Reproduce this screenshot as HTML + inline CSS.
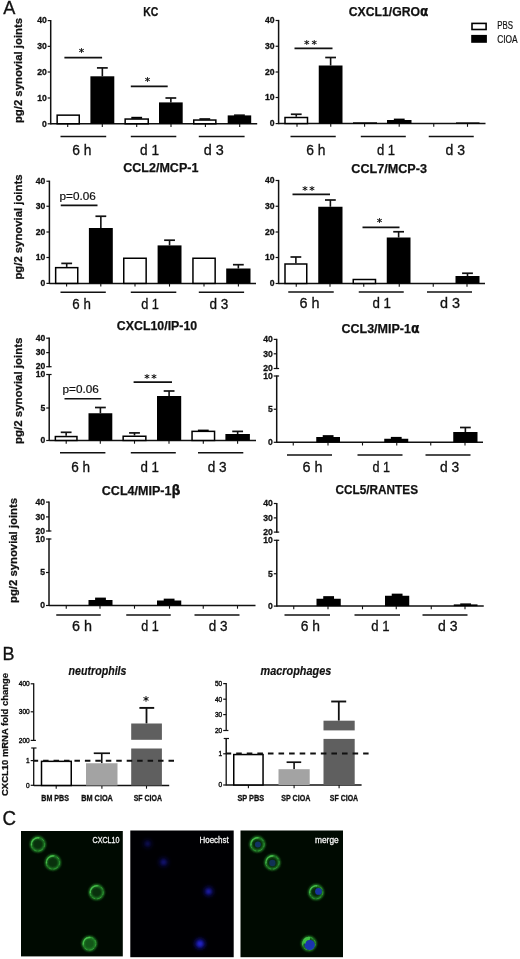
<!DOCTYPE html><html><head><meta charset="utf-8"><title>Figure</title><style>html,body{margin:0;padding:0;background:#fff;}svg{display:block;font-family:"Liberation Sans",Arial,sans-serif;}</style></head><body>
<svg width="520" height="959" viewBox="0 0 520 959">
<rect x="0" y="0" width="520" height="959" fill="#fff"/>
<text x="3.20" y="13.90" font-size="18" font-weight="normal" font-style="normal" fill="#111" stroke="#111" stroke-width="0.3" textLength="12.10" lengthAdjust="spacingAndGlyphs">A</text>
<text x="2.40" y="659.80" font-size="18.5" font-weight="normal" font-style="normal" fill="#111" stroke="#111" stroke-width="0.3" textLength="12.00" lengthAdjust="spacingAndGlyphs">B</text>
<text x="2.40" y="825.00" font-size="19.5" font-weight="normal" font-style="normal" fill="#111" stroke="#111" stroke-width="0.3" textLength="13.50" lengthAdjust="spacingAndGlyphs">C</text>
<line x1="50.70" y1="20.00" x2="50.70" y2="124.40" stroke="#111" stroke-width="1.5"/>
<line x1="47.70" y1="20.60" x2="50.70" y2="20.60" stroke="#111" stroke-width="1.2"/>
<text x="46.70" y="23.38" font-size="8.6" font-weight="bold" fill="#111" stroke="#111" stroke-width="0.3" text-anchor="end">40</text>
<line x1="47.70" y1="46.35" x2="50.70" y2="46.35" stroke="#111" stroke-width="1.2"/>
<text x="46.70" y="49.13" font-size="8.6" font-weight="bold" fill="#111" stroke="#111" stroke-width="0.3" text-anchor="end">30</text>
<line x1="47.70" y1="72.00" x2="50.70" y2="72.00" stroke="#111" stroke-width="1.2"/>
<text x="46.70" y="74.78" font-size="8.6" font-weight="bold" fill="#111" stroke="#111" stroke-width="0.3" text-anchor="end">20</text>
<line x1="47.70" y1="98.00" x2="50.70" y2="98.00" stroke="#111" stroke-width="1.2"/>
<text x="46.70" y="100.78" font-size="8.6" font-weight="bold" fill="#111" stroke="#111" stroke-width="0.3" text-anchor="end">10</text>
<line x1="47.70" y1="123.80" x2="50.70" y2="123.80" stroke="#111" stroke-width="1.2"/>
<text x="46.70" y="126.58" font-size="8.6" font-weight="bold" fill="#111" stroke="#111" stroke-width="0.3" text-anchor="end">0</text>
<line x1="50.70" y1="123.80" x2="257.20" y2="123.80" stroke="#111" stroke-width="1.5"/>
<line x1="67.70" y1="123.80" x2="67.70" y2="127.00" stroke="#111" stroke-width="1.1"/>
<line x1="102.30" y1="123.80" x2="102.30" y2="127.00" stroke="#111" stroke-width="1.1"/>
<line x1="136.70" y1="123.80" x2="136.70" y2="127.00" stroke="#111" stroke-width="1.1"/>
<line x1="171.00" y1="123.80" x2="171.00" y2="127.00" stroke="#111" stroke-width="1.1"/>
<line x1="205.40" y1="123.80" x2="205.40" y2="127.00" stroke="#111" stroke-width="1.1"/>
<line x1="239.70" y1="123.80" x2="239.70" y2="127.00" stroke="#111" stroke-width="1.1"/>
<rect x="57.15" y="115.15" width="22.10" height="8.60" fill="#fff" stroke="#000" stroke-width="1.5"/>
<line x1="102.35" y1="76.30" x2="102.35" y2="67.90" stroke="#111" stroke-width="1.6"/>
<line x1="96.95" y1="67.90" x2="107.75" y2="67.90" stroke="#111" stroke-width="1.7"/>
<rect x="90.40" y="76.30" width="23.90" height="47.50" fill="#000"/>
<rect x="131.30" y="116.80" width="10.80" height="2.00" fill="#000"/>
<rect x="125.15" y="119.05" width="23.10" height="4.70" fill="#fff" stroke="#000" stroke-width="1.5"/>
<line x1="170.85" y1="102.40" x2="170.85" y2="98.00" stroke="#111" stroke-width="1.6"/>
<line x1="165.45" y1="98.00" x2="176.25" y2="98.00" stroke="#111" stroke-width="1.7"/>
<rect x="159.00" y="102.40" width="23.70" height="21.40" fill="#000"/>
<rect x="199.40" y="118.20" width="10.80" height="1.60" fill="#000"/>
<rect x="193.75" y="120.05" width="22.10" height="3.70" fill="#fff" stroke="#000" stroke-width="1.5"/>
<rect x="234.05" y="114.40" width="10.80" height="1.50" fill="#000"/>
<rect x="227.70" y="115.40" width="23.50" height="8.40" fill="#000"/>
<line x1="64.40" y1="57.70" x2="102.10" y2="57.70" stroke="#111" stroke-width="1.7"/>
<text x="81.40" y="56.01" font-family="DejaVu Sans" font-size="10.5" font-weight="bold" fill="#111" text-anchor="middle">*</text>
<line x1="130.80" y1="86.40" x2="167.70" y2="86.40" stroke="#111" stroke-width="1.7"/>
<text x="147.40" y="84.91" font-family="DejaVu Sans" font-size="10.5" font-weight="bold" fill="#111" text-anchor="middle">*</text>
<line x1="60.50" y1="136.60" x2="106.20" y2="136.60" stroke="#111" stroke-width="1.5"/>
<line x1="130.80" y1="136.60" x2="176.30" y2="136.60" stroke="#111" stroke-width="1.5"/>
<line x1="198.80" y1="136.60" x2="244.60" y2="136.60" stroke="#111" stroke-width="1.5"/>
<text x="72.30" y="154.90" font-size="14" font-weight="normal" font-style="normal" fill="#111" stroke="#111" stroke-width="0.3" textLength="19.20" lengthAdjust="spacingAndGlyphs">6 h</text>
<text x="140.00" y="154.90" font-size="14" font-weight="normal" font-style="normal" fill="#111" stroke="#111" stroke-width="0.3" textLength="19.00" lengthAdjust="spacingAndGlyphs">d 1</text>
<text x="203.80" y="154.90" font-size="14" font-weight="normal" font-style="normal" fill="#111" stroke="#111" stroke-width="0.3" textLength="20.00" lengthAdjust="spacingAndGlyphs">d 3</text>
<text x="143.20" y="16.00" font-size="13.5" font-weight="bold" font-style="normal" fill="#111" stroke="#111" stroke-width="0.25" textLength="15.20" lengthAdjust="spacingAndGlyphs">KC</text>
<text transform="translate(21.60,123.10) rotate(-90)" x="0" y="0" font-size="11.8" font-weight="bold" fill="#111" stroke="#111" stroke-width="0.25" textLength="105.20" lengthAdjust="spacingAndGlyphs">pg/2 synovial joints</text>
<line x1="278.60" y1="19.90" x2="278.60" y2="124.20" stroke="#111" stroke-width="1.5"/>
<line x1="275.60" y1="20.50" x2="278.60" y2="20.50" stroke="#111" stroke-width="1.2"/>
<text x="274.60" y="23.28" font-size="8.6" font-weight="bold" fill="#111" stroke="#111" stroke-width="0.3" text-anchor="end">40</text>
<line x1="275.60" y1="46.25" x2="278.60" y2="46.25" stroke="#111" stroke-width="1.2"/>
<text x="274.60" y="49.03" font-size="8.6" font-weight="bold" fill="#111" stroke="#111" stroke-width="0.3" text-anchor="end">30</text>
<line x1="275.60" y1="72.00" x2="278.60" y2="72.00" stroke="#111" stroke-width="1.2"/>
<text x="274.60" y="74.78" font-size="8.6" font-weight="bold" fill="#111" stroke="#111" stroke-width="0.3" text-anchor="end">20</text>
<line x1="275.60" y1="97.50" x2="278.60" y2="97.50" stroke="#111" stroke-width="1.2"/>
<text x="274.60" y="100.28" font-size="8.6" font-weight="bold" fill="#111" stroke="#111" stroke-width="0.3" text-anchor="end">10</text>
<line x1="275.60" y1="123.60" x2="278.60" y2="123.60" stroke="#111" stroke-width="1.2"/>
<text x="274.60" y="126.38" font-size="8.6" font-weight="bold" fill="#111" stroke="#111" stroke-width="0.3" text-anchor="end">0</text>
<line x1="278.60" y1="123.60" x2="485.50" y2="123.60" stroke="#111" stroke-width="1.5"/>
<line x1="297.00" y1="123.60" x2="297.00" y2="126.80" stroke="#111" stroke-width="1.1"/>
<line x1="330.75" y1="123.60" x2="330.75" y2="126.80" stroke="#111" stroke-width="1.1"/>
<line x1="364.60" y1="123.60" x2="364.60" y2="126.80" stroke="#111" stroke-width="1.1"/>
<line x1="399.20" y1="123.60" x2="399.20" y2="126.80" stroke="#111" stroke-width="1.1"/>
<line x1="433.75" y1="123.60" x2="433.75" y2="126.80" stroke="#111" stroke-width="1.1"/>
<line x1="467.50" y1="123.60" x2="467.50" y2="126.80" stroke="#111" stroke-width="1.1"/>
<line x1="296.25" y1="116.75" x2="296.25" y2="114.25" stroke="#111" stroke-width="1.6"/>
<line x1="290.85" y1="114.25" x2="301.65" y2="114.25" stroke="#111" stroke-width="1.7"/>
<rect x="285.00" y="117.50" width="22.50" height="6.05" fill="#fff" stroke="#000" stroke-width="1.5"/>
<line x1="330.62" y1="65.50" x2="330.62" y2="57.50" stroke="#111" stroke-width="1.6"/>
<line x1="325.23" y1="57.50" x2="336.02" y2="57.50" stroke="#111" stroke-width="1.7"/>
<rect x="318.75" y="65.50" width="23.75" height="58.10" fill="#000"/>
<line x1="353.00" y1="123.10" x2="377.00" y2="123.10" stroke="#000" stroke-width="1.6"/>
<rect x="393.85" y="118.60" width="10.80" height="1.90" fill="#000"/>
<rect x="387.00" y="120.00" width="24.50" height="3.60" fill="#000"/>
<rect x="456.00" y="122.40" width="23.50" height="1.20" fill="#000"/>
<line x1="294.50" y1="48.30" x2="332.50" y2="48.30" stroke="#111" stroke-width="1.7"/>
<text x="304.07" y="48.21" font-family="DejaVu Sans" font-size="10.5" font-weight="bold" fill="#111" textLength="12.85" lengthAdjust="spacing">**</text>
<line x1="290.50" y1="136.40" x2="335.75" y2="136.40" stroke="#111" stroke-width="1.5"/>
<line x1="360.80" y1="136.40" x2="405.80" y2="136.40" stroke="#111" stroke-width="1.5"/>
<line x1="428.75" y1="136.40" x2="473.75" y2="136.40" stroke="#111" stroke-width="1.5"/>
<text x="306.25" y="155.00" font-size="14" font-weight="normal" font-style="normal" fill="#111" stroke="#111" stroke-width="0.3" textLength="19.25" lengthAdjust="spacingAndGlyphs">6 h</text>
<text x="376.90" y="155.00" font-size="14" font-weight="normal" font-style="normal" fill="#111" stroke="#111" stroke-width="0.3" textLength="18.20" lengthAdjust="spacingAndGlyphs">d 1</text>
<text x="445.50" y="155.00" font-size="14" font-weight="normal" font-style="normal" fill="#111" stroke="#111" stroke-width="0.3" textLength="19.50" lengthAdjust="spacingAndGlyphs">d 3</text>
<text x="348.7" y="15.9" font-size="13.5" font-weight="bold" fill="#111" stroke="#111" stroke-width="0.25" textLength="79.8" lengthAdjust="spacingAndGlyphs">CXCL1/GRO<tspan font-family="DejaVu Sans" font-weight="bold">α</tspan></text>
<rect x="472.00" y="23.40" width="14.10" height="6.10" fill="#fff" stroke="#000" stroke-width="1.6"/>
<rect x="471.20" y="34.90" width="15.70" height="7.90" fill="#000"/>
<text x="497.20" y="29.30" font-size="10.5" font-weight="normal" font-style="normal" fill="#111" stroke="#111" stroke-width="0.2" textLength="15.80" lengthAdjust="spacingAndGlyphs">PBS</text>
<text x="497.20" y="42.50" font-size="10.5" font-weight="normal" font-style="normal" fill="#111" stroke="#111" stroke-width="0.2" textLength="20.50" lengthAdjust="spacingAndGlyphs">CIOA</text>
<line x1="49.40" y1="180.65" x2="49.40" y2="284.00" stroke="#111" stroke-width="1.5"/>
<line x1="46.40" y1="181.25" x2="49.40" y2="181.25" stroke="#111" stroke-width="1.2"/>
<text x="45.40" y="184.03" font-size="8.6" font-weight="bold" fill="#111" stroke="#111" stroke-width="0.3" text-anchor="end">40</text>
<line x1="46.40" y1="206.25" x2="49.40" y2="206.25" stroke="#111" stroke-width="1.2"/>
<text x="45.40" y="209.03" font-size="8.6" font-weight="bold" fill="#111" stroke="#111" stroke-width="0.3" text-anchor="end">30</text>
<line x1="46.40" y1="232.00" x2="49.40" y2="232.00" stroke="#111" stroke-width="1.2"/>
<text x="45.40" y="234.78" font-size="8.6" font-weight="bold" fill="#111" stroke="#111" stroke-width="0.3" text-anchor="end">20</text>
<line x1="46.40" y1="257.50" x2="49.40" y2="257.50" stroke="#111" stroke-width="1.2"/>
<text x="45.40" y="260.28" font-size="8.6" font-weight="bold" fill="#111" stroke="#111" stroke-width="0.3" text-anchor="end">10</text>
<line x1="46.40" y1="283.40" x2="49.40" y2="283.40" stroke="#111" stroke-width="1.2"/>
<text x="45.40" y="286.18" font-size="8.6" font-weight="bold" fill="#111" stroke="#111" stroke-width="0.3" text-anchor="end">0</text>
<line x1="49.40" y1="283.40" x2="256.00" y2="283.40" stroke="#111" stroke-width="1.5"/>
<line x1="66.60" y1="283.40" x2="66.60" y2="286.60" stroke="#111" stroke-width="1.1"/>
<line x1="100.80" y1="283.40" x2="100.80" y2="286.60" stroke="#111" stroke-width="1.1"/>
<line x1="135.00" y1="283.40" x2="135.00" y2="286.60" stroke="#111" stroke-width="1.1"/>
<line x1="169.50" y1="283.40" x2="169.50" y2="286.60" stroke="#111" stroke-width="1.1"/>
<line x1="204.00" y1="283.40" x2="204.00" y2="286.60" stroke="#111" stroke-width="1.1"/>
<line x1="238.40" y1="283.40" x2="238.40" y2="286.60" stroke="#111" stroke-width="1.1"/>
<line x1="66.70" y1="266.90" x2="66.70" y2="263.40" stroke="#111" stroke-width="1.6"/>
<line x1="61.30" y1="263.40" x2="72.10" y2="263.40" stroke="#111" stroke-width="1.7"/>
<rect x="55.65" y="267.65" width="22.10" height="15.70" fill="#fff" stroke="#000" stroke-width="1.5"/>
<line x1="100.85" y1="228.00" x2="100.85" y2="216.25" stroke="#111" stroke-width="1.6"/>
<line x1="95.45" y1="216.25" x2="106.25" y2="216.25" stroke="#111" stroke-width="1.7"/>
<rect x="88.90" y="228.00" width="23.90" height="55.40" fill="#000"/>
<rect x="123.75" y="258.25" width="22.40" height="25.10" fill="#fff" stroke="#000" stroke-width="1.5"/>
<line x1="169.55" y1="245.40" x2="169.55" y2="240.20" stroke="#111" stroke-width="1.6"/>
<line x1="164.15" y1="240.20" x2="174.95" y2="240.20" stroke="#111" stroke-width="1.7"/>
<rect x="157.60" y="245.40" width="23.90" height="38.00" fill="#000"/>
<rect x="192.95" y="258.25" width="22.20" height="25.10" fill="#fff" stroke="#000" stroke-width="1.5"/>
<line x1="238.35" y1="268.50" x2="238.35" y2="264.70" stroke="#111" stroke-width="1.6"/>
<line x1="232.95" y1="264.70" x2="243.75" y2="264.70" stroke="#111" stroke-width="1.7"/>
<rect x="226.20" y="268.50" width="24.30" height="14.90" fill="#000"/>
<text x="59.50" y="199.50" font-size="10.5" font-weight="normal" font-style="normal" fill="#111" stroke="#111" stroke-width="0.2" textLength="36.25" lengthAdjust="spacingAndGlyphs">p=0.06</text>
<line x1="60.75" y1="205.40" x2="97.50" y2="205.40" stroke="#111" stroke-width="1.7"/>
<line x1="60.50" y1="292.20" x2="105.80" y2="292.20" stroke="#111" stroke-width="1.5"/>
<line x1="130.80" y1="292.20" x2="176.30" y2="292.20" stroke="#111" stroke-width="1.5"/>
<line x1="198.80" y1="292.20" x2="244.10" y2="292.20" stroke="#111" stroke-width="1.5"/>
<text x="72.30" y="309.00" font-size="14" font-weight="normal" font-style="normal" fill="#111" stroke="#111" stroke-width="0.3" textLength="18.50" lengthAdjust="spacingAndGlyphs">6 h</text>
<text x="141.20" y="309.00" font-size="14" font-weight="normal" font-style="normal" fill="#111" stroke="#111" stroke-width="0.3" textLength="17.80" lengthAdjust="spacingAndGlyphs">d 1</text>
<text x="209.50" y="309.00" font-size="14" font-weight="normal" font-style="normal" fill="#111" stroke="#111" stroke-width="0.3" textLength="18.80" lengthAdjust="spacingAndGlyphs">d 3</text>
<text x="123.20" y="172.40" font-size="13.5" font-weight="bold" font-style="normal" fill="#111" stroke="#111" stroke-width="0.25" textLength="75.20" lengthAdjust="spacingAndGlyphs">CCL2/MCP-1</text>
<text transform="translate(21.60,279.60) rotate(-90)" x="0" y="0" font-size="11.8" font-weight="bold" fill="#111" stroke="#111" stroke-width="0.25" textLength="105.10" lengthAdjust="spacingAndGlyphs">pg/2 synovial joints</text>
<line x1="278.60" y1="179.90" x2="278.60" y2="284.10" stroke="#111" stroke-width="1.5"/>
<line x1="275.60" y1="180.50" x2="278.60" y2="180.50" stroke="#111" stroke-width="1.2"/>
<text x="274.60" y="183.28" font-size="8.6" font-weight="bold" fill="#111" stroke="#111" stroke-width="0.3" text-anchor="end">40</text>
<line x1="275.60" y1="206.25" x2="278.60" y2="206.25" stroke="#111" stroke-width="1.2"/>
<text x="274.60" y="209.03" font-size="8.6" font-weight="bold" fill="#111" stroke="#111" stroke-width="0.3" text-anchor="end">30</text>
<line x1="275.60" y1="232.00" x2="278.60" y2="232.00" stroke="#111" stroke-width="1.2"/>
<text x="274.60" y="234.78" font-size="8.6" font-weight="bold" fill="#111" stroke="#111" stroke-width="0.3" text-anchor="end">20</text>
<line x1="275.60" y1="257.50" x2="278.60" y2="257.50" stroke="#111" stroke-width="1.2"/>
<text x="274.60" y="260.28" font-size="8.6" font-weight="bold" fill="#111" stroke="#111" stroke-width="0.3" text-anchor="end">10</text>
<line x1="275.60" y1="283.50" x2="278.60" y2="283.50" stroke="#111" stroke-width="1.2"/>
<text x="274.60" y="286.28" font-size="8.6" font-weight="bold" fill="#111" stroke="#111" stroke-width="0.3" text-anchor="end">0</text>
<line x1="278.60" y1="283.50" x2="485.00" y2="283.50" stroke="#111" stroke-width="1.5"/>
<line x1="296.25" y1="283.50" x2="296.25" y2="286.70" stroke="#111" stroke-width="1.1"/>
<line x1="330.00" y1="283.50" x2="330.00" y2="286.70" stroke="#111" stroke-width="1.1"/>
<line x1="363.75" y1="283.50" x2="363.75" y2="286.70" stroke="#111" stroke-width="1.1"/>
<line x1="399.25" y1="283.50" x2="399.25" y2="286.70" stroke="#111" stroke-width="1.1"/>
<line x1="433.25" y1="283.50" x2="433.25" y2="286.70" stroke="#111" stroke-width="1.1"/>
<line x1="467.00" y1="283.50" x2="467.00" y2="286.70" stroke="#111" stroke-width="1.1"/>
<line x1="295.88" y1="263.25" x2="295.88" y2="257.00" stroke="#111" stroke-width="1.6"/>
<line x1="290.48" y1="257.00" x2="301.27" y2="257.00" stroke="#111" stroke-width="1.7"/>
<rect x="285.00" y="264.00" width="21.75" height="19.45" fill="#fff" stroke="#000" stroke-width="1.5"/>
<line x1="330.38" y1="206.75" x2="330.38" y2="200.00" stroke="#111" stroke-width="1.6"/>
<line x1="324.98" y1="200.00" x2="335.77" y2="200.00" stroke="#111" stroke-width="1.7"/>
<rect x="318.25" y="206.75" width="24.25" height="76.75" fill="#000"/>
<rect x="353.25" y="279.50" width="22.25" height="3.95" fill="#fff" stroke="#000" stroke-width="1.5"/>
<line x1="398.62" y1="237.50" x2="398.62" y2="231.75" stroke="#111" stroke-width="1.6"/>
<line x1="393.23" y1="231.75" x2="404.02" y2="231.75" stroke="#111" stroke-width="1.7"/>
<rect x="386.75" y="237.50" width="23.75" height="46.00" fill="#000"/>
<line x1="467.50" y1="276.00" x2="467.50" y2="273.25" stroke="#111" stroke-width="1.6"/>
<line x1="462.10" y1="273.25" x2="472.90" y2="273.25" stroke="#111" stroke-width="1.7"/>
<rect x="455.50" y="276.00" width="24.00" height="7.50" fill="#000"/>
<line x1="292.50" y1="194.40" x2="330.00" y2="194.40" stroke="#111" stroke-width="1.7"/>
<text x="302.18" y="194.11" font-family="DejaVu Sans" font-size="10.5" font-weight="bold" fill="#111" textLength="12.45" lengthAdjust="spacing">**</text>
<line x1="362.50" y1="227.40" x2="399.50" y2="227.40" stroke="#111" stroke-width="1.7"/>
<text x="379.40" y="225.91" font-family="DejaVu Sans" font-size="10.5" font-weight="bold" fill="#111" text-anchor="middle">*</text>
<line x1="288.25" y1="292.00" x2="333.75" y2="292.00" stroke="#111" stroke-width="1.5"/>
<line x1="358.75" y1="292.00" x2="403.75" y2="292.00" stroke="#111" stroke-width="1.5"/>
<line x1="427.00" y1="292.00" x2="472.00" y2="292.00" stroke="#111" stroke-width="1.5"/>
<text x="299.50" y="308.00" font-size="14" font-weight="normal" font-style="normal" fill="#111" stroke="#111" stroke-width="0.3" textLength="20.00" lengthAdjust="spacingAndGlyphs">6 h</text>
<text x="372.50" y="308.00" font-size="14" font-weight="normal" font-style="normal" fill="#111" stroke="#111" stroke-width="0.3" textLength="18.50" lengthAdjust="spacingAndGlyphs">d 1</text>
<text x="440.00" y="308.00" font-size="14" font-weight="normal" font-style="normal" fill="#111" stroke="#111" stroke-width="0.3" textLength="20.00" lengthAdjust="spacingAndGlyphs">d 3</text>
<text x="351.30" y="172.90" font-size="13.5" font-weight="bold" font-style="normal" fill="#111" stroke="#111" stroke-width="0.25" textLength="75.70" lengthAdjust="spacingAndGlyphs">CCL7/MCP-3</text>
<line x1="49.20" y1="337.60" x2="49.20" y2="367.30" stroke="#111" stroke-width="1.5"/>
<line x1="46.20" y1="338.20" x2="49.20" y2="338.20" stroke="#111" stroke-width="1.2"/>
<text x="45.20" y="340.98" font-size="8.6" font-weight="bold" fill="#111" stroke="#111" stroke-width="0.3" text-anchor="end">40</text>
<line x1="46.20" y1="352.60" x2="49.20" y2="352.60" stroke="#111" stroke-width="1.2"/>
<text x="45.20" y="355.38" font-size="8.6" font-weight="bold" fill="#111" stroke="#111" stroke-width="0.3" text-anchor="end">30</text>
<line x1="46.20" y1="366.70" x2="49.20" y2="366.70" stroke="#111" stroke-width="1.2"/>
<text x="45.20" y="369.48" font-size="8.6" font-weight="bold" fill="#111" stroke="#111" stroke-width="0.3" text-anchor="end">20</text>
<line x1="49.20" y1="366.70" x2="51.60" y2="366.70" stroke="#111" stroke-width="1.2"/>
<line x1="49.20" y1="373.90" x2="49.20" y2="441.10" stroke="#111" stroke-width="1.5"/>
<line x1="46.20" y1="374.50" x2="49.20" y2="374.50" stroke="#111" stroke-width="1.2"/>
<text x="45.20" y="377.28" font-size="8.6" font-weight="bold" fill="#111" stroke="#111" stroke-width="0.3" text-anchor="end">10</text>
<line x1="46.20" y1="408.00" x2="49.20" y2="408.00" stroke="#111" stroke-width="1.2"/>
<text x="45.20" y="410.78" font-size="8.6" font-weight="bold" fill="#111" stroke="#111" stroke-width="0.3" text-anchor="end">5</text>
<line x1="46.20" y1="440.50" x2="49.20" y2="440.50" stroke="#111" stroke-width="1.2"/>
<text x="45.20" y="443.28" font-size="8.6" font-weight="bold" fill="#111" stroke="#111" stroke-width="0.3" text-anchor="end">0</text>
<line x1="49.20" y1="374.50" x2="51.60" y2="374.50" stroke="#111" stroke-width="1.2"/>
<line x1="49.20" y1="440.50" x2="256.00" y2="440.50" stroke="#111" stroke-width="1.5"/>
<line x1="66.20" y1="440.50" x2="66.20" y2="443.70" stroke="#111" stroke-width="1.1"/>
<line x1="100.30" y1="440.50" x2="100.30" y2="443.70" stroke="#111" stroke-width="1.1"/>
<line x1="134.50" y1="440.50" x2="134.50" y2="443.70" stroke="#111" stroke-width="1.1"/>
<line x1="169.00" y1="440.50" x2="169.00" y2="443.70" stroke="#111" stroke-width="1.1"/>
<line x1="203.30" y1="440.50" x2="203.30" y2="443.70" stroke="#111" stroke-width="1.1"/>
<line x1="237.60" y1="440.50" x2="237.60" y2="443.70" stroke="#111" stroke-width="1.1"/>
<line x1="66.15" y1="435.80" x2="66.15" y2="432.30" stroke="#111" stroke-width="1.6"/>
<line x1="60.75" y1="432.30" x2="71.55" y2="432.30" stroke="#111" stroke-width="1.7"/>
<rect x="55.35" y="436.55" width="21.60" height="3.90" fill="#fff" stroke="#000" stroke-width="1.5"/>
<line x1="100.40" y1="413.25" x2="100.40" y2="407.50" stroke="#111" stroke-width="1.6"/>
<line x1="95.00" y1="407.50" x2="105.80" y2="407.50" stroke="#111" stroke-width="1.7"/>
<rect x="88.50" y="413.25" width="23.80" height="27.25" fill="#000"/>
<line x1="134.50" y1="435.50" x2="134.50" y2="432.90" stroke="#111" stroke-width="1.6"/>
<line x1="129.10" y1="432.90" x2="139.90" y2="432.90" stroke="#111" stroke-width="1.7"/>
<rect x="123.15" y="436.25" width="22.70" height="4.20" fill="#fff" stroke="#000" stroke-width="1.5"/>
<line x1="169.10" y1="396.00" x2="169.10" y2="391.00" stroke="#111" stroke-width="1.6"/>
<line x1="163.70" y1="391.00" x2="174.50" y2="391.00" stroke="#111" stroke-width="1.7"/>
<rect x="157.00" y="396.00" width="24.20" height="44.50" fill="#000"/>
<rect x="197.90" y="429.60" width="10.80" height="1.50" fill="#000"/>
<rect x="192.05" y="431.35" width="22.50" height="9.10" fill="#fff" stroke="#000" stroke-width="1.5"/>
<line x1="237.65" y1="434.00" x2="237.65" y2="431.40" stroke="#111" stroke-width="1.6"/>
<line x1="232.25" y1="431.40" x2="243.05" y2="431.40" stroke="#111" stroke-width="1.7"/>
<rect x="225.40" y="434.00" width="24.50" height="6.50" fill="#000"/>
<text x="62.50" y="393.20" font-size="10.5" font-weight="normal" font-style="normal" fill="#111" stroke="#111" stroke-width="0.2" textLength="36.25" lengthAdjust="spacingAndGlyphs">p=0.06</text>
<line x1="64.50" y1="398.75" x2="101.25" y2="398.75" stroke="#111" stroke-width="1.7"/>
<line x1="133.60" y1="382.10" x2="172.00" y2="382.10" stroke="#111" stroke-width="1.7"/>
<text x="144.18" y="381.81" font-family="DejaVu Sans" font-size="10.5" font-weight="bold" fill="#111" textLength="12.45" lengthAdjust="spacing">**</text>
<line x1="60.00" y1="452.70" x2="105.40" y2="452.70" stroke="#111" stroke-width="1.5"/>
<line x1="130.80" y1="452.70" x2="175.80" y2="452.70" stroke="#111" stroke-width="1.5"/>
<line x1="198.00" y1="452.70" x2="243.30" y2="452.70" stroke="#111" stroke-width="1.5"/>
<text x="71.20" y="471.50" font-size="14" font-weight="normal" font-style="normal" fill="#111" stroke="#111" stroke-width="0.3" textLength="18.80" lengthAdjust="spacingAndGlyphs">6 h</text>
<text x="140.50" y="471.50" font-size="14" font-weight="normal" font-style="normal" fill="#111" stroke="#111" stroke-width="0.3" textLength="18.50" lengthAdjust="spacingAndGlyphs">d 1</text>
<text x="207.70" y="471.50" font-size="14" font-weight="normal" font-style="normal" fill="#111" stroke="#111" stroke-width="0.3" textLength="18.90" lengthAdjust="spacingAndGlyphs">d 3</text>
<text x="116.80" y="330.40" font-size="13.5" font-weight="bold" font-style="normal" fill="#111" stroke="#111" stroke-width="0.25" textLength="80.40" lengthAdjust="spacingAndGlyphs">CXCL10/IP-10</text>
<text transform="translate(21.60,444.00) rotate(-90)" x="0" y="0" font-size="11.8" font-weight="bold" fill="#111" stroke="#111" stroke-width="0.25" textLength="106.40" lengthAdjust="spacingAndGlyphs">pg/2 synovial joints</text>
<line x1="276.70" y1="338.80" x2="276.70" y2="369.10" stroke="#111" stroke-width="1.5"/>
<line x1="273.70" y1="339.40" x2="276.70" y2="339.40" stroke="#111" stroke-width="1.2"/>
<text x="272.70" y="342.18" font-size="8.6" font-weight="bold" fill="#111" stroke="#111" stroke-width="0.3" text-anchor="end">40</text>
<line x1="273.70" y1="353.80" x2="276.70" y2="353.80" stroke="#111" stroke-width="1.2"/>
<text x="272.70" y="356.58" font-size="8.6" font-weight="bold" fill="#111" stroke="#111" stroke-width="0.3" text-anchor="end">30</text>
<line x1="273.70" y1="368.50" x2="276.70" y2="368.50" stroke="#111" stroke-width="1.2"/>
<text x="272.70" y="371.28" font-size="8.6" font-weight="bold" fill="#111" stroke="#111" stroke-width="0.3" text-anchor="end">20</text>
<line x1="276.70" y1="368.50" x2="279.10" y2="368.50" stroke="#111" stroke-width="1.2"/>
<line x1="276.70" y1="375.40" x2="276.70" y2="442.90" stroke="#111" stroke-width="1.5"/>
<line x1="273.70" y1="376.00" x2="276.70" y2="376.00" stroke="#111" stroke-width="1.2"/>
<text x="272.70" y="378.78" font-size="8.6" font-weight="bold" fill="#111" stroke="#111" stroke-width="0.3" text-anchor="end">10</text>
<line x1="273.70" y1="409.25" x2="276.70" y2="409.25" stroke="#111" stroke-width="1.2"/>
<text x="272.70" y="412.03" font-size="8.6" font-weight="bold" fill="#111" stroke="#111" stroke-width="0.3" text-anchor="end">5</text>
<line x1="273.70" y1="442.30" x2="276.70" y2="442.30" stroke="#111" stroke-width="1.2"/>
<text x="272.70" y="445.08" font-size="8.6" font-weight="bold" fill="#111" stroke="#111" stroke-width="0.3" text-anchor="end">0</text>
<line x1="276.70" y1="376.00" x2="279.10" y2="376.00" stroke="#111" stroke-width="1.2"/>
<line x1="276.70" y1="442.30" x2="483.00" y2="442.30" stroke="#111" stroke-width="1.5"/>
<line x1="293.25" y1="442.30" x2="293.25" y2="445.50" stroke="#111" stroke-width="1.1"/>
<line x1="328.00" y1="442.30" x2="328.00" y2="445.50" stroke="#111" stroke-width="1.1"/>
<line x1="362.50" y1="442.30" x2="362.50" y2="445.50" stroke="#111" stroke-width="1.1"/>
<line x1="396.75" y1="442.30" x2="396.75" y2="445.50" stroke="#111" stroke-width="1.1"/>
<line x1="430.75" y1="442.30" x2="430.75" y2="445.50" stroke="#111" stroke-width="1.1"/>
<line x1="465.00" y1="442.30" x2="465.00" y2="445.50" stroke="#111" stroke-width="1.1"/>
<rect x="322.73" y="435.15" width="10.80" height="2.35" fill="#000"/>
<rect x="316.25" y="437.00" width="23.75" height="5.30" fill="#000"/>
<rect x="390.85" y="436.90" width="10.80" height="2.35" fill="#000"/>
<rect x="384.25" y="438.75" width="24.00" height="3.55" fill="#000"/>
<line x1="465.38" y1="432.00" x2="465.38" y2="427.50" stroke="#111" stroke-width="1.6"/>
<line x1="459.98" y1="427.50" x2="470.77" y2="427.50" stroke="#111" stroke-width="1.7"/>
<rect x="453.25" y="432.00" width="24.25" height="10.30" fill="#000"/>
<line x1="287.00" y1="455.00" x2="332.00" y2="455.00" stroke="#111" stroke-width="1.5"/>
<line x1="357.50" y1="455.00" x2="402.50" y2="455.00" stroke="#111" stroke-width="1.5"/>
<line x1="425.50" y1="455.00" x2="470.50" y2="455.00" stroke="#111" stroke-width="1.5"/>
<text x="302.50" y="472.00" font-size="14" font-weight="normal" font-style="normal" fill="#111" stroke="#111" stroke-width="0.3" textLength="20.00" lengthAdjust="spacingAndGlyphs">6 h</text>
<text x="372.50" y="472.00" font-size="14" font-weight="normal" font-style="normal" fill="#111" stroke="#111" stroke-width="0.3" textLength="17.50" lengthAdjust="spacingAndGlyphs">d 1</text>
<text x="440.00" y="472.00" font-size="14" font-weight="normal" font-style="normal" fill="#111" stroke="#111" stroke-width="0.3" textLength="19.25" lengthAdjust="spacingAndGlyphs">d 3</text>
<text x="341.4" y="332.7" font-size="13.5" font-weight="bold" fill="#111" stroke="#111" stroke-width="0.25" textLength="78.2" lengthAdjust="spacingAndGlyphs">CCL3/MIP-1<tspan font-family="DejaVu Sans" font-weight="bold">α</tspan></text>
<line x1="49.00" y1="501.50" x2="49.00" y2="531.60" stroke="#111" stroke-width="1.5"/>
<line x1="46.00" y1="502.10" x2="49.00" y2="502.10" stroke="#111" stroke-width="1.2"/>
<text x="45.00" y="504.88" font-size="8.6" font-weight="bold" fill="#111" stroke="#111" stroke-width="0.3" text-anchor="end">40</text>
<line x1="46.00" y1="516.90" x2="49.00" y2="516.90" stroke="#111" stroke-width="1.2"/>
<text x="45.00" y="519.68" font-size="8.6" font-weight="bold" fill="#111" stroke="#111" stroke-width="0.3" text-anchor="end">30</text>
<line x1="46.00" y1="531.00" x2="49.00" y2="531.00" stroke="#111" stroke-width="1.2"/>
<text x="45.00" y="533.78" font-size="8.6" font-weight="bold" fill="#111" stroke="#111" stroke-width="0.3" text-anchor="end">20</text>
<line x1="49.00" y1="531.00" x2="51.40" y2="531.00" stroke="#111" stroke-width="1.2"/>
<line x1="49.00" y1="538.40" x2="49.00" y2="606.10" stroke="#111" stroke-width="1.5"/>
<line x1="46.00" y1="539.00" x2="49.00" y2="539.00" stroke="#111" stroke-width="1.2"/>
<text x="45.00" y="541.78" font-size="8.6" font-weight="bold" fill="#111" stroke="#111" stroke-width="0.3" text-anchor="end">10</text>
<line x1="46.00" y1="572.50" x2="49.00" y2="572.50" stroke="#111" stroke-width="1.2"/>
<text x="45.00" y="575.28" font-size="8.6" font-weight="bold" fill="#111" stroke="#111" stroke-width="0.3" text-anchor="end">5</text>
<line x1="46.00" y1="605.50" x2="49.00" y2="605.50" stroke="#111" stroke-width="1.2"/>
<text x="45.00" y="608.28" font-size="8.6" font-weight="bold" fill="#111" stroke="#111" stroke-width="0.3" text-anchor="end">0</text>
<line x1="49.00" y1="539.00" x2="51.40" y2="539.00" stroke="#111" stroke-width="1.2"/>
<line x1="49.00" y1="605.50" x2="255.50" y2="605.50" stroke="#111" stroke-width="1.5"/>
<line x1="66.25" y1="605.50" x2="66.25" y2="608.70" stroke="#111" stroke-width="1.1"/>
<line x1="100.00" y1="605.50" x2="100.00" y2="608.70" stroke="#111" stroke-width="1.1"/>
<line x1="134.50" y1="605.50" x2="134.50" y2="608.70" stroke="#111" stroke-width="1.1"/>
<line x1="169.50" y1="605.50" x2="169.50" y2="608.70" stroke="#111" stroke-width="1.1"/>
<line x1="203.25" y1="605.50" x2="203.25" y2="608.70" stroke="#111" stroke-width="1.1"/>
<line x1="237.50" y1="605.50" x2="237.50" y2="608.70" stroke="#111" stroke-width="1.1"/>
<rect x="95.10" y="597.60" width="10.80" height="2.90" fill="#000"/>
<rect x="88.50" y="600.00" width="24.00" height="5.50" fill="#000"/>
<rect x="163.72" y="598.65" width="10.80" height="2.35" fill="#000"/>
<rect x="157.00" y="600.50" width="24.25" height="5.00" fill="#000"/>
<line x1="56.25" y1="615.00" x2="100.75" y2="615.00" stroke="#111" stroke-width="1.5"/>
<line x1="126.25" y1="615.00" x2="170.75" y2="615.00" stroke="#111" stroke-width="1.5"/>
<line x1="194.50" y1="615.00" x2="239.50" y2="615.00" stroke="#111" stroke-width="1.5"/>
<text x="72.00" y="631.25" font-size="14" font-weight="normal" font-style="normal" fill="#111" stroke="#111" stroke-width="0.3" textLength="20.00" lengthAdjust="spacingAndGlyphs">6 h</text>
<text x="141.25" y="631.25" font-size="14" font-weight="normal" font-style="normal" fill="#111" stroke="#111" stroke-width="0.3" textLength="17.50" lengthAdjust="spacingAndGlyphs">d 1</text>
<text x="208.75" y="631.25" font-size="14" font-weight="normal" font-style="normal" fill="#111" stroke="#111" stroke-width="0.3" textLength="18.75" lengthAdjust="spacingAndGlyphs">d 3</text>
<text x="101.8" y="494.7" font-size="13.5" font-weight="bold" fill="#111" stroke="#111" stroke-width="0.25" textLength="78.7" lengthAdjust="spacingAndGlyphs">CCL4/MIP-1<tspan font-family="DejaVu Sans" font-weight="bold">β</tspan></text>
<text transform="translate(17.00,603.00) rotate(-90)" x="0" y="0" font-size="11.8" font-weight="bold" fill="#111" stroke="#111" stroke-width="0.25" textLength="105.10" lengthAdjust="spacingAndGlyphs">pg/2 synovial joints</text>
<line x1="276.80" y1="502.90" x2="276.80" y2="532.70" stroke="#111" stroke-width="1.5"/>
<line x1="273.80" y1="503.50" x2="276.80" y2="503.50" stroke="#111" stroke-width="1.2"/>
<text x="272.80" y="506.28" font-size="8.6" font-weight="bold" fill="#111" stroke="#111" stroke-width="0.3" text-anchor="end">40</text>
<line x1="273.80" y1="517.90" x2="276.80" y2="517.90" stroke="#111" stroke-width="1.2"/>
<text x="272.80" y="520.68" font-size="8.6" font-weight="bold" fill="#111" stroke="#111" stroke-width="0.3" text-anchor="end">30</text>
<line x1="273.80" y1="532.10" x2="276.80" y2="532.10" stroke="#111" stroke-width="1.2"/>
<text x="272.80" y="534.88" font-size="8.6" font-weight="bold" fill="#111" stroke="#111" stroke-width="0.3" text-anchor="end">20</text>
<line x1="276.80" y1="532.10" x2="279.20" y2="532.10" stroke="#111" stroke-width="1.2"/>
<line x1="276.80" y1="539.70" x2="276.80" y2="606.70" stroke="#111" stroke-width="1.5"/>
<line x1="273.80" y1="540.30" x2="276.80" y2="540.30" stroke="#111" stroke-width="1.2"/>
<text x="272.80" y="543.08" font-size="8.6" font-weight="bold" fill="#111" stroke="#111" stroke-width="0.3" text-anchor="end">10</text>
<line x1="273.80" y1="573.75" x2="276.80" y2="573.75" stroke="#111" stroke-width="1.2"/>
<text x="272.80" y="576.53" font-size="8.6" font-weight="bold" fill="#111" stroke="#111" stroke-width="0.3" text-anchor="end">5</text>
<line x1="273.80" y1="606.10" x2="276.80" y2="606.10" stroke="#111" stroke-width="1.2"/>
<text x="272.80" y="608.88" font-size="8.6" font-weight="bold" fill="#111" stroke="#111" stroke-width="0.3" text-anchor="end">0</text>
<line x1="276.80" y1="540.30" x2="279.20" y2="540.30" stroke="#111" stroke-width="1.2"/>
<line x1="276.80" y1="606.10" x2="483.75" y2="606.10" stroke="#111" stroke-width="1.5"/>
<line x1="293.75" y1="606.10" x2="293.75" y2="609.30" stroke="#111" stroke-width="1.1"/>
<line x1="328.00" y1="606.10" x2="328.00" y2="609.30" stroke="#111" stroke-width="1.1"/>
<line x1="362.50" y1="606.10" x2="362.50" y2="609.30" stroke="#111" stroke-width="1.1"/>
<line x1="396.25" y1="606.10" x2="396.25" y2="609.30" stroke="#111" stroke-width="1.1"/>
<line x1="431.25" y1="606.10" x2="431.25" y2="609.30" stroke="#111" stroke-width="1.1"/>
<line x1="465.00" y1="606.10" x2="465.00" y2="609.30" stroke="#111" stroke-width="1.1"/>
<rect x="323.23" y="596.15" width="10.80" height="3.10" fill="#000"/>
<rect x="316.50" y="598.75" width="24.25" height="7.35" fill="#000"/>
<rect x="391.73" y="593.65" width="10.80" height="2.60" fill="#000"/>
<rect x="385.00" y="595.75" width="24.25" height="10.35" fill="#000"/>
<rect x="460.23" y="603.40" width="10.80" height="1.50" fill="#000"/>
<rect x="453.75" y="604.40" width="23.75" height="1.70" fill="#000"/>
<line x1="284.50" y1="615.00" x2="330.00" y2="615.00" stroke="#111" stroke-width="1.5"/>
<line x1="354.50" y1="615.00" x2="400.00" y2="615.00" stroke="#111" stroke-width="1.5"/>
<line x1="422.50" y1="615.00" x2="467.50" y2="615.00" stroke="#111" stroke-width="1.5"/>
<text x="300.75" y="631.25" font-size="14" font-weight="normal" font-style="normal" fill="#111" stroke="#111" stroke-width="0.3" textLength="19.25" lengthAdjust="spacingAndGlyphs">6 h</text>
<text x="371.25" y="631.25" font-size="14" font-weight="normal" font-style="normal" fill="#111" stroke="#111" stroke-width="0.3" textLength="18.25" lengthAdjust="spacingAndGlyphs">d 1</text>
<text x="438.00" y="631.25" font-size="14" font-weight="normal" font-style="normal" fill="#111" stroke="#111" stroke-width="0.3" textLength="19.50" lengthAdjust="spacingAndGlyphs">d 3</text>
<text x="335.50" y="493.90" font-size="13.5" font-weight="bold" font-style="normal" fill="#111" stroke="#111" stroke-width="0.25" textLength="82.50" lengthAdjust="spacingAndGlyphs">CCL5/RANTES</text>
<line x1="33.70" y1="683.20" x2="33.70" y2="741.00" stroke="#111" stroke-width="1.3"/>
<line x1="30.70" y1="683.80" x2="33.70" y2="683.80" stroke="#111" stroke-width="1.2"/>
<text x="18.75" y="686.29" font-size="7.8" font-weight="normal" fill="#111" stroke="#111" stroke-width="0.45" textLength="10.95" lengthAdjust="spacingAndGlyphs">400</text>
<line x1="30.70" y1="711.80" x2="33.70" y2="711.80" stroke="#111" stroke-width="1.2"/>
<text x="18.75" y="714.29" font-size="7.8" font-weight="normal" fill="#111" stroke="#111" stroke-width="0.45" textLength="10.95" lengthAdjust="spacingAndGlyphs">300</text>
<line x1="30.70" y1="740.40" x2="33.70" y2="740.40" stroke="#111" stroke-width="1.2"/>
<text x="18.75" y="742.89" font-size="7.8" font-weight="normal" fill="#111" stroke="#111" stroke-width="0.45" textLength="10.95" lengthAdjust="spacingAndGlyphs">200</text>
<line x1="33.70" y1="740.40" x2="35.90" y2="740.40" stroke="#111" stroke-width="1.2"/>
<line x1="33.70" y1="760.00" x2="33.70" y2="785.90" stroke="#111" stroke-width="1.3"/>
<line x1="30.70" y1="760.60" x2="33.70" y2="760.60" stroke="#111" stroke-width="1.2"/>
<text x="26.05" y="763.09" font-size="7.8" font-weight="normal" fill="#111" stroke="#111" stroke-width="0.45" textLength="3.65" lengthAdjust="spacingAndGlyphs">1</text>
<line x1="30.70" y1="785.30" x2="33.70" y2="785.30" stroke="#111" stroke-width="1.2"/>
<text x="26.05" y="787.79" font-size="7.8" font-weight="normal" fill="#111" stroke="#111" stroke-width="0.45" textLength="3.65" lengthAdjust="spacingAndGlyphs">0</text>
<line x1="33.70" y1="748.00" x2="33.70" y2="760.75" stroke="#111" stroke-width="1.5"/>
<line x1="31.20" y1="748.00" x2="36.50" y2="748.00" stroke="#111" stroke-width="1.2"/>
<line x1="33.70" y1="785.50" x2="169.20" y2="785.50" stroke="#111" stroke-width="1.5"/>
<line x1="56.20" y1="785.50" x2="56.20" y2="788.70" stroke="#111" stroke-width="1.1"/>
<line x1="101.90" y1="785.50" x2="101.90" y2="788.70" stroke="#111" stroke-width="1.1"/>
<line x1="146.50" y1="785.50" x2="146.50" y2="788.70" stroke="#111" stroke-width="1.1"/>
<rect x="41.50" y="761.35" width="29.75" height="24.10" fill="#fff" stroke="#000" stroke-width="1.5"/>
<line x1="101.75" y1="763.25" x2="101.75" y2="753.25" stroke="#111" stroke-width="1.6"/>
<line x1="93.75" y1="753.25" x2="110.00" y2="753.25" stroke="#111" stroke-width="1.7"/>
<rect x="86.00" y="763.25" width="31.50" height="22.25" fill="#a3a3a3"/>
<line x1="146.50" y1="723.50" x2="146.50" y2="707.70" stroke="#111" stroke-width="1.8"/>
<line x1="139.40" y1="707.90" x2="154.20" y2="707.90" stroke="#111" stroke-width="1.9"/>
<rect x="131.20" y="723.50" width="30.70" height="16.30" fill="#5f5f5f"/>
<rect x="131.20" y="748.50" width="30.70" height="37.00" fill="#5f5f5f"/>
<line x1="33.70" y1="760.80" x2="174.00" y2="760.80" stroke="#111" stroke-width="2.0" stroke-dasharray="5.5 4.95" stroke-dashoffset="1.05"/>
<text x="145.90" y="705.12" font-family="DejaVu Sans" font-size="11.5" font-weight="bold" fill="#111" text-anchor="middle">*</text>
<text x="68.50" y="674.70" font-size="12.8" font-weight="bold" font-style="italic" fill="#111" stroke="#111" stroke-width="0.2" textLength="58.00" lengthAdjust="spacingAndGlyphs">neutrophils</text>
<text x="41.30" y="801.40" font-size="8.8" font-weight="bold" font-style="normal" fill="#111" stroke="#111" stroke-width="0.3" textLength="27.70" lengthAdjust="spacingAndGlyphs">BM PBS</text>
<text x="81.20" y="801.40" font-size="8.8" font-weight="bold" font-style="normal" fill="#111" stroke="#111" stroke-width="0.3" textLength="31.70" lengthAdjust="spacingAndGlyphs">BM CIOA</text>
<text x="133.70" y="801.40" font-size="8.8" font-weight="bold" font-style="normal" fill="#111" stroke="#111" stroke-width="0.3" textLength="28.30" lengthAdjust="spacingAndGlyphs">SF CIOA</text>
<text transform="translate(7.60,796.00) rotate(-90)" x="0" y="0" font-size="8.6" font-weight="bold" fill="#111" stroke="#111" stroke-width="0.25" textLength="123.10" lengthAdjust="spacingAndGlyphs">CXCL10 mRNA fold change</text>
<line x1="226.20" y1="683.00" x2="226.20" y2="731.10" stroke="#111" stroke-width="1.3"/>
<line x1="223.20" y1="683.60" x2="226.20" y2="683.60" stroke="#111" stroke-width="1.2"/>
<text x="214.90" y="686.09" font-size="7.8" font-weight="normal" fill="#111" stroke="#111" stroke-width="0.45" textLength="7.30" lengthAdjust="spacingAndGlyphs">50</text>
<line x1="223.20" y1="699.20" x2="226.20" y2="699.20" stroke="#111" stroke-width="1.2"/>
<text x="214.90" y="701.69" font-size="7.8" font-weight="normal" fill="#111" stroke="#111" stroke-width="0.45" textLength="7.30" lengthAdjust="spacingAndGlyphs">40</text>
<line x1="223.20" y1="714.60" x2="226.20" y2="714.60" stroke="#111" stroke-width="1.2"/>
<text x="214.90" y="717.09" font-size="7.8" font-weight="normal" fill="#111" stroke="#111" stroke-width="0.45" textLength="7.30" lengthAdjust="spacingAndGlyphs">30</text>
<line x1="223.20" y1="730.50" x2="226.20" y2="730.50" stroke="#111" stroke-width="1.2"/>
<text x="214.90" y="732.99" font-size="7.8" font-weight="normal" fill="#111" stroke="#111" stroke-width="0.45" textLength="7.30" lengthAdjust="spacingAndGlyphs">20</text>
<line x1="226.20" y1="730.50" x2="228.40" y2="730.50" stroke="#111" stroke-width="1.2"/>
<line x1="226.20" y1="753.20" x2="226.20" y2="785.60" stroke="#111" stroke-width="1.3"/>
<line x1="223.20" y1="753.80" x2="226.20" y2="753.80" stroke="#111" stroke-width="1.2"/>
<text x="218.55" y="756.29" font-size="7.8" font-weight="normal" fill="#111" stroke="#111" stroke-width="0.45" textLength="3.65" lengthAdjust="spacingAndGlyphs">1</text>
<line x1="223.20" y1="785.00" x2="226.20" y2="785.00" stroke="#111" stroke-width="1.2"/>
<text x="218.55" y="787.49" font-size="7.8" font-weight="normal" fill="#111" stroke="#111" stroke-width="0.45" textLength="3.65" lengthAdjust="spacingAndGlyphs">0</text>
<line x1="226.20" y1="738.50" x2="226.20" y2="753.80" stroke="#111" stroke-width="1.5"/>
<line x1="223.70" y1="738.50" x2="229.00" y2="738.50" stroke="#111" stroke-width="1.2"/>
<line x1="226.20" y1="785.00" x2="361.60" y2="785.00" stroke="#111" stroke-width="1.5"/>
<line x1="248.40" y1="785.00" x2="248.40" y2="788.20" stroke="#111" stroke-width="1.1"/>
<line x1="294.10" y1="785.00" x2="294.10" y2="788.20" stroke="#111" stroke-width="1.1"/>
<line x1="339.10" y1="785.00" x2="339.10" y2="788.20" stroke="#111" stroke-width="1.1"/>
<rect x="233.75" y="754.55" width="29.30" height="30.40" fill="#fff" stroke="#000" stroke-width="1.5"/>
<line x1="294.10" y1="769.20" x2="294.10" y2="762.20" stroke="#111" stroke-width="1.6"/>
<line x1="286.60" y1="762.20" x2="301.20" y2="762.20" stroke="#111" stroke-width="1.7"/>
<rect x="278.50" y="769.20" width="31.20" height="15.80" fill="#a3a3a3"/>
<line x1="338.80" y1="720.70" x2="338.80" y2="701.50" stroke="#111" stroke-width="1.8"/>
<line x1="331.20" y1="701.50" x2="346.20" y2="701.50" stroke="#111" stroke-width="1.9"/>
<rect x="323.50" y="720.70" width="31.20" height="9.70" fill="#5f5f5f"/>
<rect x="323.50" y="738.90" width="31.20" height="46.10" fill="#5f5f5f"/>
<line x1="226.00" y1="753.60" x2="368.60" y2="753.60" stroke="#111" stroke-width="2.0" stroke-dasharray="5.6 4.98" stroke-dashoffset="0.4"/>
<text x="260.60" y="674.70" font-size="12.8" font-weight="bold" font-style="italic" fill="#111" stroke="#111" stroke-width="0.2" textLength="70.70" lengthAdjust="spacingAndGlyphs">macrophages</text>
<text x="237.40" y="800.90" font-size="8.8" font-weight="bold" font-style="normal" fill="#111" stroke="#111" stroke-width="0.3" textLength="26.80" lengthAdjust="spacingAndGlyphs">SP PBS</text>
<text x="281.20" y="800.90" font-size="8.8" font-weight="bold" font-style="normal" fill="#111" stroke="#111" stroke-width="0.3" textLength="29.20" lengthAdjust="spacingAndGlyphs">SP CIOA</text>
<text x="329.80" y="800.90" font-size="8.8" font-weight="bold" font-style="normal" fill="#111" stroke="#111" stroke-width="0.3" textLength="28.30" lengthAdjust="spacingAndGlyphs">SF CIOA</text>
<defs><filter id="bl1" x="-50%" y="-50%" width="200%" height="200%"><feGaussianBlur stdDeviation="0.75"/></filter><filter id="bl15" x="-50%" y="-50%" width="200%" height="200%"><feGaussianBlur stdDeviation="1.3"/></filter><filter id="bl2" x="-80%" y="-80%" width="260%" height="260%"><feGaussianBlur stdDeviation="2.0"/></filter><radialGradient id="gin"><stop offset="0" stop-color="#1b6e1e"/><stop offset="0.7" stop-color="#1a7a1f"/><stop offset="1" stop-color="#2a9a30"/></radialGradient></defs>
<rect x="21.00" y="831.00" width="101.80" height="125.40" fill="#000a01"/>
<circle cx="37.9" cy="844.3" r="7.1" fill="#14601a" opacity="0.45" filter="url(#bl1)"/>
<circle cx="37.9" cy="844.3" r="6.8" fill="none" stroke="#268c2b" stroke-width="2.3" filter="url(#bl15)"/>
<circle cx="37.9" cy="844.3" r="6.8" fill="none" stroke="#3cb842" stroke-width="1.0" stroke-dasharray="3 2 5 2" opacity="0.55" filter="url(#bl1)"/>
<path d="M31.6,845.3 A6.3,6.3 0 0 1 38.9,838.0" fill="none" stroke="#55d85a" stroke-width="1.3" opacity="0.7" filter="url(#bl1)"/>
<circle cx="52.9" cy="862.4" r="7.1" fill="#14601a" opacity="0.45" filter="url(#bl1)"/>
<circle cx="52.9" cy="862.4" r="6.8" fill="none" stroke="#268c2b" stroke-width="2.3" filter="url(#bl15)"/>
<circle cx="52.9" cy="862.4" r="6.8" fill="none" stroke="#3cb842" stroke-width="1.0" stroke-dasharray="3 2 5 2" opacity="0.55" filter="url(#bl1)"/>
<path d="M46.6,863.4 A6.3,6.3 0 0 1 53.9,856.1" fill="none" stroke="#55d85a" stroke-width="1.3" opacity="0.7" filter="url(#bl1)"/>
<circle cx="96.6" cy="892.2" r="7.0" fill="#14601a" opacity="0.45" filter="url(#bl1)"/>
<circle cx="96.6" cy="892.2" r="6.7" fill="none" stroke="#268c2b" stroke-width="2.3" filter="url(#bl15)"/>
<circle cx="96.6" cy="892.2" r="6.7" fill="none" stroke="#3cb842" stroke-width="1.0" stroke-dasharray="3 2 5 2" opacity="0.55" filter="url(#bl1)"/>
<path d="M90.4,893.2 A6.2,6.2 0 0 1 97.6,886.0" fill="none" stroke="#55d85a" stroke-width="1.3" opacity="0.7" filter="url(#bl1)"/>
<circle cx="89.4" cy="943.6" r="6.8" fill="#14601a" opacity="0.9" filter="url(#bl1)"/>
<circle cx="89.4" cy="943.6" r="6.5" fill="none" stroke="#268c2b" stroke-width="2.3" filter="url(#bl15)"/>
<circle cx="89.4" cy="943.6" r="6.5" fill="none" stroke="#3cb842" stroke-width="1.0" stroke-dasharray="3 2 5 2" opacity="0.55" filter="url(#bl1)"/>
<path d="M83.4,944.6 A6.0,6.0 0 0 1 90.4,937.6" fill="none" stroke="#55d85a" stroke-width="1.3" opacity="0.7" filter="url(#bl1)"/>
<text x="92.50" y="842.90" font-size="9.6" font-weight="normal" font-style="normal" fill="#f4f4f4" stroke="#f4f4f4" stroke-width="0.3" textLength="27.00" lengthAdjust="spacingAndGlyphs">CXCL10</text>
<rect x="130.30" y="830.50" width="103.40" height="126.70" fill="#000003"/>
<circle cx="147.6" cy="843.8" r="4.5" fill="#1c1cc8" opacity="0.22" filter="url(#bl2)"/>
<circle cx="147.6" cy="843.8" r="2.5" fill="#2a2ae8" opacity="0.17600000000000002" filter="url(#bl15)"/>
<circle cx="163.6" cy="862.2" r="4.8" fill="#1c1cc8" opacity="0.32" filter="url(#bl2)"/>
<circle cx="163.6" cy="862.2" r="2.6" fill="#2a2ae8" opacity="0.256" filter="url(#bl15)"/>
<circle cx="208.6" cy="891.4" r="4.6" fill="#1c1cc8" opacity="0.55" filter="url(#bl2)"/>
<circle cx="208.6" cy="891.4" r="2.5" fill="#2a2ae8" opacity="0.44000000000000006" filter="url(#bl15)"/>
<circle cx="200.0" cy="943.8" r="5.0" fill="#1c1cc8" opacity="0.75" filter="url(#bl2)"/>
<circle cx="200.0" cy="943.8" r="2.8" fill="#2a2ae8" opacity="0.6000000000000001" filter="url(#bl15)"/>
<text x="199.50" y="842.90" font-size="9.6" font-weight="normal" font-style="normal" fill="#f4f4f4" stroke="#f4f4f4" stroke-width="0.3" textLength="29.20" lengthAdjust="spacingAndGlyphs">Hoechst</text>
<rect x="240.50" y="830.50" width="102.50" height="126.70" fill="#000a01"/>
<circle cx="257.4" cy="844.3" r="7.1" fill="#14601a" opacity="0.35" filter="url(#bl1)"/>
<circle cx="257.4" cy="844.3" r="6.8" fill="none" stroke="#268c2b" stroke-width="2.3" filter="url(#bl15)"/>
<circle cx="257.4" cy="844.3" r="6.8" fill="none" stroke="#3cb842" stroke-width="1.0" stroke-dasharray="3 2 5 2" opacity="0.55" filter="url(#bl1)"/>
<path d="M251.1,845.3 A6.3,6.3 0 0 1 258.4,838.0" fill="none" stroke="#55d85a" stroke-width="1.3" opacity="0.7" filter="url(#bl1)"/>
<circle cx="272.4" cy="862.4" r="7.1" fill="#14601a" opacity="0.35" filter="url(#bl1)"/>
<circle cx="272.4" cy="862.4" r="6.8" fill="none" stroke="#268c2b" stroke-width="2.3" filter="url(#bl15)"/>
<circle cx="272.4" cy="862.4" r="6.8" fill="none" stroke="#3cb842" stroke-width="1.0" stroke-dasharray="3 2 5 2" opacity="0.55" filter="url(#bl1)"/>
<path d="M266.1,863.4 A6.3,6.3 0 0 1 273.4,856.1" fill="none" stroke="#55d85a" stroke-width="1.3" opacity="0.7" filter="url(#bl1)"/>
<circle cx="316.1" cy="892.2" r="7.0" fill="#14601a" opacity="0.35" filter="url(#bl1)"/>
<circle cx="316.1" cy="892.2" r="6.7" fill="none" stroke="#268c2b" stroke-width="2.3" filter="url(#bl15)"/>
<circle cx="316.1" cy="892.2" r="6.7" fill="none" stroke="#3cb842" stroke-width="1.0" stroke-dasharray="3 2 5 2" opacity="0.55" filter="url(#bl1)"/>
<path d="M309.9,893.2 A6.2,6.2 0 0 1 317.1,886.0" fill="none" stroke="#55d85a" stroke-width="1.3" opacity="0.7" filter="url(#bl1)"/>
<circle cx="308.9" cy="943.6" r="6.8" fill="#14601a" opacity="0.6" filter="url(#bl1)"/>
<circle cx="308.9" cy="943.6" r="6.5" fill="none" stroke="#268c2b" stroke-width="2.3" filter="url(#bl15)"/>
<circle cx="308.9" cy="943.6" r="6.5" fill="none" stroke="#3cb842" stroke-width="1.0" stroke-dasharray="3 2 5 2" opacity="0.55" filter="url(#bl1)"/>
<path d="M302.9,944.6 A6.0,6.0 0 0 1 309.9,937.6" fill="none" stroke="#55d85a" stroke-width="1.3" opacity="0.7" filter="url(#bl1)"/>
<circle cx="257.9" cy="844.5" r="3.0" fill="#1a3aa0" opacity="0.6" filter="url(#bl1)"/>
<circle cx="272.4" cy="863.0" r="3.2" fill="#1a3aa0" opacity="0.5" filter="url(#bl1)"/>
<circle cx="318.5" cy="891.4" r="3.4" fill="#1c34b8" opacity="0.85" filter="url(#bl1)"/>
<circle cx="309.7" cy="944.9" r="5.2" fill="#1c30c0" opacity="0.9" filter="url(#bl1)"/>
<path d="M304.4,943.6 A4.8,4.8 0 0 1 309.9,938.8" fill="none" stroke="#3cc040" stroke-width="2.4" filter="url(#bl1)"/>
<text x="315.00" y="842.90" font-size="9.6" font-weight="normal" font-style="normal" fill="#f4f4f4" stroke="#f4f4f4" stroke-width="0.3" textLength="23.70" lengthAdjust="spacingAndGlyphs">merge</text>
</svg></body></html>
